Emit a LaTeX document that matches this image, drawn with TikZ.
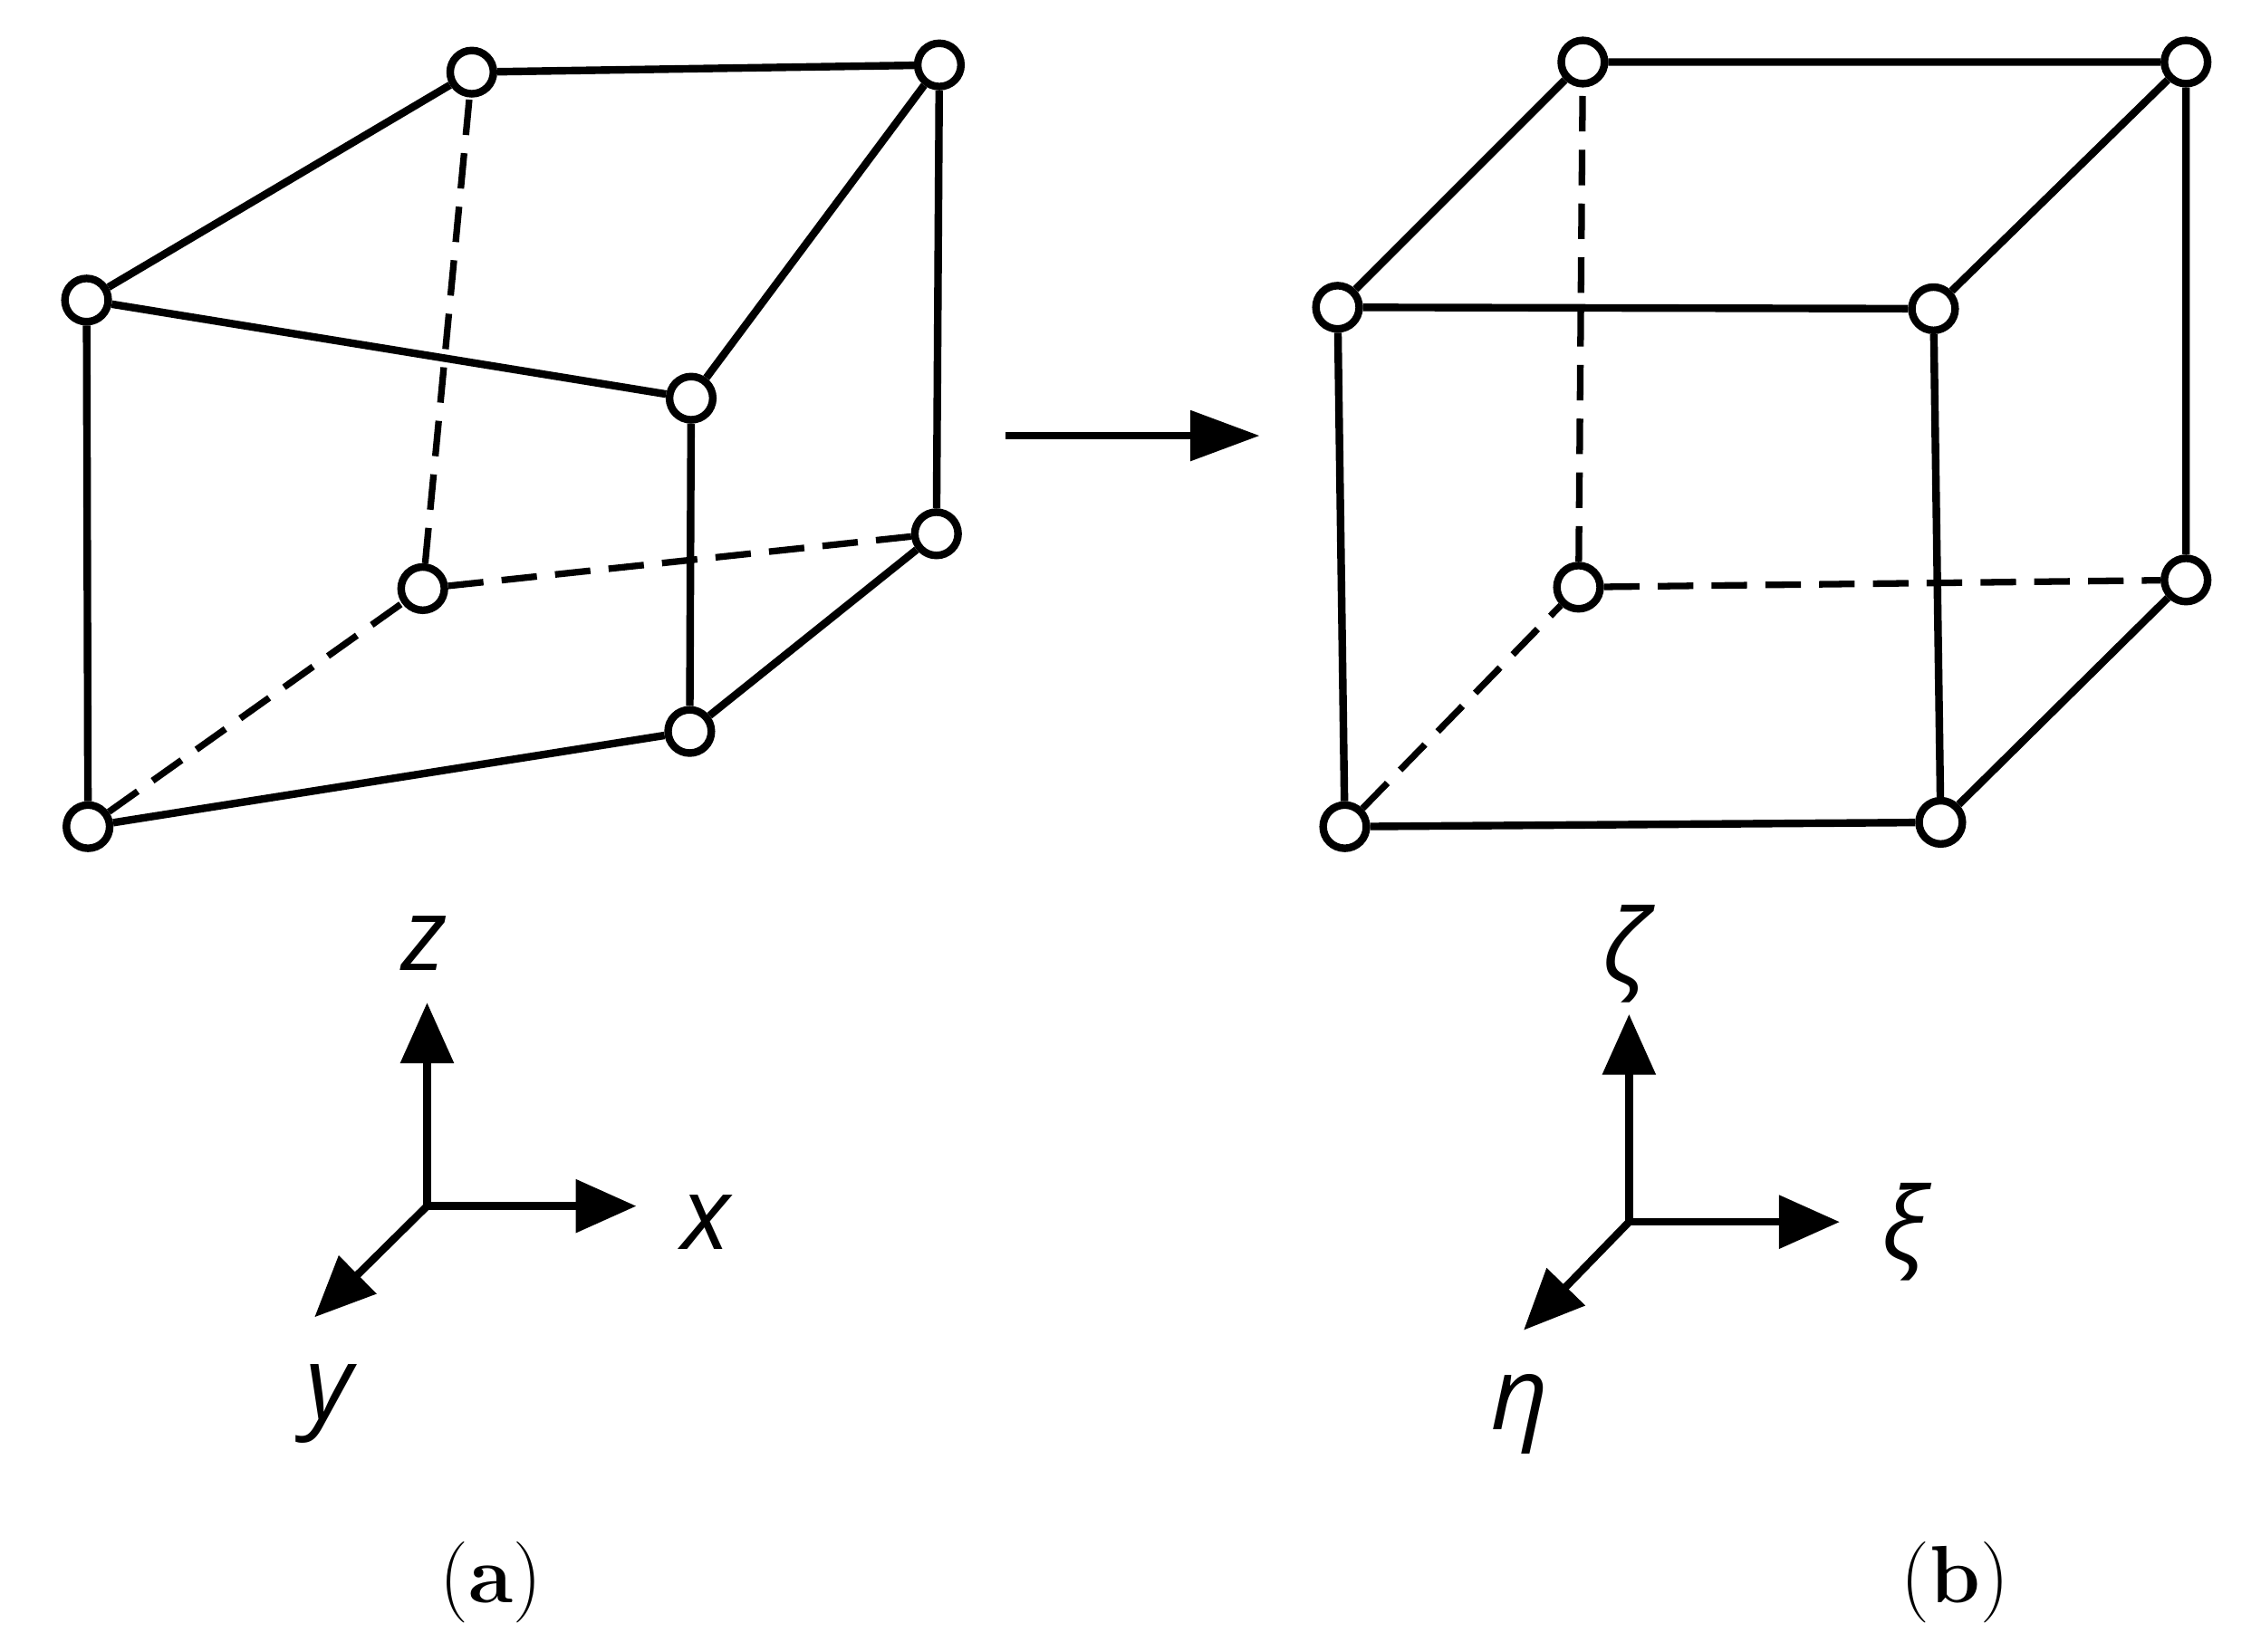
\documentclass[tikz,border=0pt]{standalone}
\usepackage{fontspec}
\usetikzlibrary{arrows.meta}
\newfontfamily\axisfont{Open Sans}
\tikzset{
  vertex/.style={circle, draw, fill=white, line width=1.5pt, inner sep=0pt, minimum size=0.3cm},
  edge/.style={line width=1.5pt},
  hidden/.style={line width=1.3pt, dash pattern=on 7pt off 3.6pt},
  axis/.style={line width=1.5pt, -{Triangle[length=0.42cm, width=0.36cm]}},
  axislabel/.style={font=\axisfont\itshape\fontsize{20}{22}\selectfont, inner sep=0pt},
  caption/.style={font=\fontsize{16}{18}\selectfont, inner sep=0pt}
}
\begin{document}
\begin{tikzpicture}[x=0.01cm, y=-0.01cm]
\useasboundingbox (0,0) rectangle (1567,1145);

% distorted element
\node [vertex] (a1) at (61,573) {};
\node [vertex] (a2) at (478,507) {};
\node [vertex] (a3) at (649,370) {};
\node [vertex] (a4) at (293,408) {};
\node [vertex] (a5) at (60,208) {};
\node [vertex] (a6) at (479,276) {};
\node [vertex] (a7) at (651,45) {};
\node [vertex] (a8) at (327,50) {};

\draw [edge] (a1) -- (a2) -- (a3) -- (a7) -- (a8) -- (a5) -- (a1);
\draw [edge] (a5) -- (a6) -- (a7);
\draw [edge] (a6) -- (a2);
\draw [hidden] (a1) -- (a4);
\draw [hidden] (a4) -- (a3);
\draw [hidden] (a4) -- (a8);

% regular element
\node [vertex] (b1) at (932,573) {};
\node [vertex] (b2) at (1345,570) {};
\node [vertex] (b3) at (1515,402) {};
\node [vertex] (b4) at (1094,407) {};
\node [vertex] (b5) at (927,213) {};
\node [vertex] (b6) at (1340,214) {};
\node [vertex] (b7) at (1515,43) {};
\node [vertex] (b8) at (1097,43) {};

\draw [edge] (b1) -- (b2) -- (b3) -- (b7) -- (b8) -- (b5) -- (b1);
\draw [edge] (b5) -- (b6) -- (b7);
\draw [edge] (b6) -- (b2);
\draw [hidden] (b1) -- (b4);
\draw [hidden] (b4) -- (b3);
\draw [hidden] (b4) -- (b8);

% mapping arrow
\coordinate (mapfrom) at (697,302);
\coordinate (mapto) at (873,302);
\draw [line width=1.5pt, -{Triangle[length=0.48cm, width=0.34cm]}] (mapfrom) -- (mapto);

% axes
\coordinate (oa) at (296,836);
\coordinate (za) at (296,695);
\coordinate (xa) at (441,836);
\coordinate (ya) at (218,913);
\draw [axis] (oa) -- (za);
\draw [axis] (oa) -- (xa);
\draw [axis] (oa) -- (ya);
\node [axislabel] (zlabel) at (294,654) {z};
\node [axislabel] (xlabel) at (489,847) {x};
\node [axislabel] (ylabel) at (228,973) {y};

\coordinate (ob) at (1129,847);
\coordinate (zb) at (1129,703);
\coordinate (xb) at (1275,847);
\coordinate (yb) at (1056,922);
\draw [axis] (ob) -- (zb);
\draw [axis] (ob) -- (xb);
\draw [axis] (ob) -- (yb);
\node [axislabel] (zetalabel) at (1126,661) {ζ};
\node [axislabel] (xilabel) at (1320,854) {ξ};
\node [axislabel] (etalabel) at (1053,980) {η};

\node [caption] (capa) at (340,1097) {(\textbf{a})};
\node [caption] (capb) at (1355,1097) {(\textbf{b})};
\end{tikzpicture}
\end{document}
